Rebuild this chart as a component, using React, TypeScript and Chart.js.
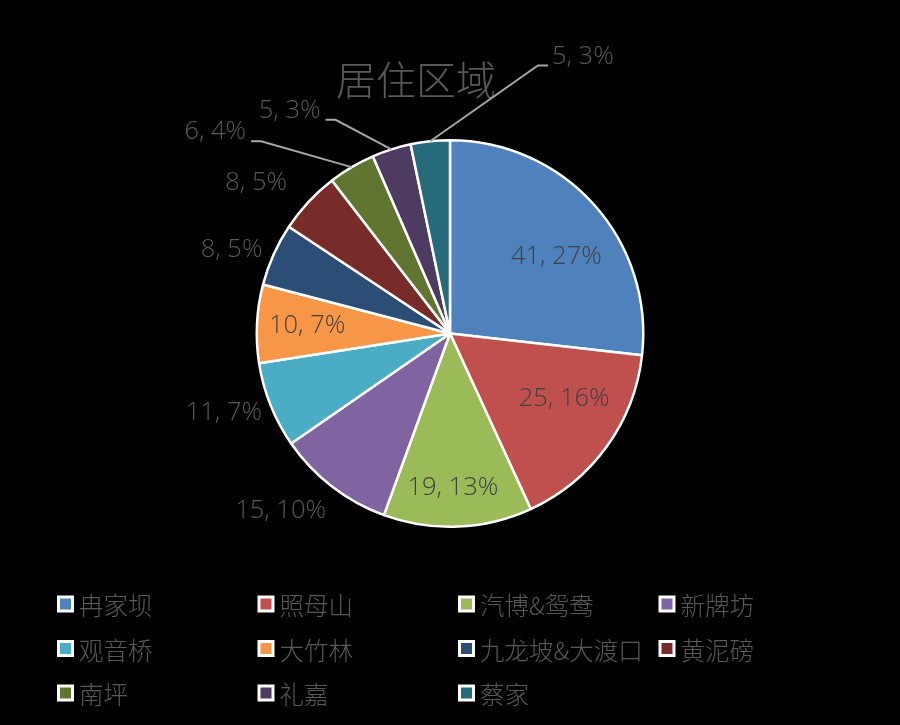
import React, { useEffect, useRef } from "react";
import { Chart, registerables } from "chart.js";

Chart.register(...registerables);

const chartTitle = "居住区域";
const categories = ["冉家坝", "照母山", "汽博&鸳鸯", "新牌坊", "观音桥", "大竹林", "九龙坡&大渡口", "黄泥磅", "南坪", "礼嘉", "蔡家"];
const counts = [41, 25, 19, 15, 11, 10, 8, 8, 6, 5, 5];
const percents = [27, 16, 13, 10, 7, 7, 5, 5, 4, 3, 3];
const colors = ["#4F81BD", "#C0504D", "#9BBB59", "#8064A2", "#4BACC6", "#F79646", "#2C4D75", "#772C2A", "#5F7530", "#4D3B62", "#276A7C"];

// label placement relative to each slice: radius factor, angle shift (deg), inside?, leader line?
const labelRadius = [0.68, 0.68, 0.8, 1.27, 1.24, 0.74, 1.21, 1.27, 1.6, 1.42, 1.59];
const labelShift = [5.8, -6.2, 1.3, 6, 2.4, 0, -3.2, -5.1, -18.8, -18.1, 31.5];
const labelInside = [true, true, true, false, false, true, false, false, false, false, false];
const labelLeader = [false, false, false, false, false, false, false, false, true, true, true];

const FONT = "'Open Sans', 'Noto Sans CJK SC', sans-serif";
const CJK = "'Noto Sans CJK SC', 'Open Sans', sans-serif";

const decorPlugin = {
  id: "decor",
  afterDraw(chart: any) {
    const ctx = chart.ctx as CanvasRenderingContext2D;
    const meta = chart.getDatasetMeta(0);
    ctx.save();
    // title
    ctx.fillStyle = "#595959";
    ctx.font = `300 40px ${CJK}`;
    ctx.textAlign = "center";
    ctx.textBaseline = "middle";
    ctx.fillText(chartTitle, 416, 80);

    // data labels
    ctx.font = `300 25.5px ${FONT}`;
    meta.data.forEach((arc: any, i: number) => {
      const { x, y, startAngle, endAngle, outerRadius } = arc.getProps(["x", "y", "startAngle", "endAngle", "outerRadius"], true);
      const mid = (startAngle + endAngle) / 2;
      const a = mid + (labelShift[i] * Math.PI) / 180;
      const r = outerRadius * labelRadius[i];
      const lx = x + Math.cos(a) * r;
      const ly = y + Math.sin(a) * r;
      const text = `${counts[i]}, ${percents[i]}%`;
      ctx.fillStyle = labelInside[i] ? "#404040" : "#595959";
      ctx.textAlign = "center";
      ctx.textBaseline = "middle";
      ctx.fillText(text, lx, ly);
      if (labelLeader[i]) {
        const w = ctx.measureText(text).width;
        const ex = x + Math.cos(mid) * outerRadius;
        const ey = y + Math.sin(mid) * outerRadius;
        const left = lx < ex;
        const sx = left ? lx + w / 2 + 5 : lx - w / 2 - 4;
        const sy = ly + 9;
        const hx = left ? sx + 10 : sx - 10;
        ctx.strokeStyle = "#A6A6A6";
        ctx.lineWidth = 2;
        ctx.beginPath();
        ctx.moveTo(sx, sy);
        ctx.lineTo(hx, sy);
        ctx.lineTo(ex, ey);
        ctx.stroke();
      }
    });

    // legend grid
    const left0 = 57;
    const colW = 200.5;
    const row0 = 604;
    const rowH = 44.5;
    ctx.font = `300 24.5px ${CJK}`;
    ctx.textAlign = "left";
    ctx.textBaseline = "middle";
    categories.forEach((c, i) => {
      const col = i % 4;
      const row = Math.floor(i / 4);
      const bx = left0 + col * colW;
      const by = row0 + row * rowH;
      ctx.fillStyle = "#FFFFFF";
      ctx.fillRect(bx, by - 8.5, 17, 17);
      ctx.fillStyle = colors[i];
      ctx.fillRect(bx + 3, by - 5.5, 11, 11);
      ctx.fillStyle = "#595959";
      ctx.fillText(c, bx + 22, by + 2);
    });
    ctx.restore();
  },
};

export default function App() {
  const ref = useRef<HTMLCanvasElement | null>(null);
  useEffect(() => {
    if (!ref.current) return;
    const chart = new Chart(ref.current, {
      type: "pie",
      data: {
        labels: categories,
        datasets: [
          {
            data: counts,
            backgroundColor: colors,
            borderColor: "#FFFFFF",
            borderWidth: 2.5,
          },
        ],
      },
      options: {
        animation: false,
        responsive: false,
        events: [],
        layout: { padding: { top: 139, bottom: 197, left: 0, right: 0 } },
        plugins: {
          legend: { display: false },
          title: { display: false },
          tooltip: { enabled: false },
        },
      },
      plugins: [decorPlugin],
    } as any);
    return () => chart.destroy();
  }, []);
  return (
    <div style={{ position: "fixed", left: 0, top: 0, width: 900, height: 725, background: "#000" }}>
      <canvas ref={ref} width={900} height={725} style={{ display: "block", width: 900, height: 725 }} />
    </div>
  );
}
